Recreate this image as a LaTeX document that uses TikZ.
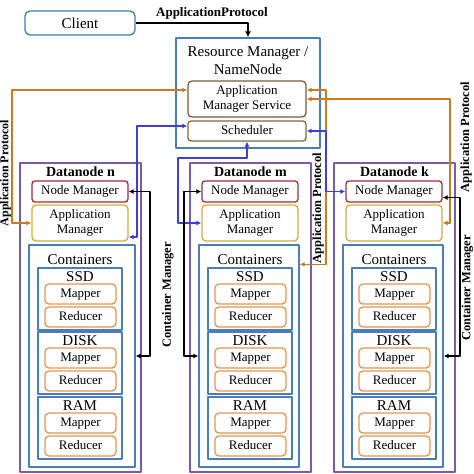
\documentclass[tikz,border=0pt]{standalone}
\usepackage{fontspec}
\setmainfont{Liberation Serif}
\usepackage{xcolor}
\usepackage{tikz}
\usetikzlibrary{arrows.meta}
\definecolor{hdTeal}{HTML}{3F7BA6}
\definecolor{hdBlue}{HTML}{4A7EBB}
\definecolor{hdPurple}{HTML}{7E5AA6}
\definecolor{hdRed}{HTML}{A3283A}
\definecolor{hdGold}{HTML}{CDAE3D}
\definecolor{hdBrown}{HTML}{7F5A36}
\definecolor{hdOlive}{HTML}{7D6A35}
\definecolor{hdOrange}{HTML}{E39550}
\definecolor{hdProto}{HTML}{C97C1E}
\definecolor{hdSched}{HTML}{3F3FD8}
\tikzset{
  hd diagram/.style={line join=round},
  hd big/.style={font=\fontsize{15}{18}\selectfont, align=center, inner sep=0pt},
  hd small/.style={font=\fontsize{13}{15}\selectfont, align=center, inner sep=0pt},
  hd label/.style={font=\bfseries\fontsize{12.5}{14}\selectfont, inner sep=0pt},
  hd box/.style={hd small, draw, line width=1.3pt, minimum width=96pt},
  hd frame/.style={draw, line width=1.3pt, inner sep=0pt},
  nm box/.style={hd box, draw=hdRed, rounded corners=3pt, minimum height=21pt},
  am box/.style={hd box, draw=hdGold, rounded corners=4pt, minimum height=36pt},
  mr box/.style={hd box, draw=hdOrange, rounded corners=4pt, minimum width=71pt,
    minimum height=20pt, text height=9pt, text depth=3pt},
  hd link/.style={{Latex[length=5pt,width=5pt]}-{Latex[length=5pt,width=5pt]},
    line width=1.3pt},
  proto link/.style={hd link, draw=hdProto},
  sched link/.style={hd link, draw=hdSched},
  cm link/.style={hd link, draw=black}
}
\begin{document}
\begin{tikzpicture}[hd diagram,x=1pt,y=-1pt]
\useasboundingbox (0,0) rectangle (474,474);
\node[hd big,hd frame,draw=hdTeal,rounded corners=5pt,minimum width=110pt,minimum height=24pt]
  (client) at (80,23) {Client};
\node[hd label,font=\bfseries\fontsize{13}{15}\selectfont] (aplabel) at (212,13) {ApplicationProtocol};
\node[hd frame,draw=hdBlue,minimum width=144pt,minimum height=110pt] (rm) at (248,93) {};
\node[hd big] (rmlabel) at (248,61) {Resource Manager /\\NameNode};
\node[hd box,draw=hdBrown,rounded corners=4pt,minimum width=118pt,minimum height=36pt]
  (ams) at (247,99) {Application\\Manager Service};
\node[hd box,draw=hdOlive,rounded corners=3pt,minimum width=118pt,minimum height=20pt,
  text height=9pt,text depth=3pt] (sch) at (247,131) {Scheduler};
\foreach \id/\xo/\cw in {n/20/106,m/190/100,k/334/100}{
  \node[hd frame,draw=hdPurple,minimum width=121pt,minimum height=309pt] (dn\id) at (\xo+60.5,317.5) {};
  \node[hd label,font=\bfseries\fontsize{14}{16}\selectfont] (dnlabel\id) at (\xo+60.5,172) {Datanode \id};
  \node[nm box] (nm\id) at (\xo+60,191.5) {Node Manager};
  \node[am box] (am\id) at (\xo+60,223) {Application\\Manager};
  \node[hd frame,draw=hdBlue,minimum width=\cw pt,minimum height=222pt] (ct\id) at (\xo+9+\cw/2,356) {};
  \node[hd big] (ctlabel\id) at (\xo+60,260) {Containers};
  \foreach \s/\yo in {SSD/268,DISK/332,RAM/397}{
    \node[hd frame,draw=hdBlue,minimum width=84pt,minimum height=62pt] (\s\id) at (\xo+60,\yo+31) {};
    \node[hd big] (\s label\id) at (\xo+60,\yo+9) {\s};
    \node[mr box] (map\s\id) at (\xo+60.5,\yo+26) {Mapper};
    \node[mr box] (red\s\id) at (\xo+60.5,\yo+49) {Reducer};
  }
}
\coordinate (busw) at (12,0);
\coordinate (busn) at (137,0);
\coordinate (busm) at (178,158);
\coordinate (busa) at (326,0);
\coordinate (buse) at (450,0);
\coordinate (cmn) at (150,0);
\coordinate (cmm) at (184,0);
\coordinate (cmk) at (460,0);
\draw[line width=2.2pt,-{Latex[length=6pt,width=6pt]}] (client.east) -| (rm.north);
\draw[proto link] ([yshift=9pt]ams.west) -- ([yshift=9pt]ams.west -| busw) |- (amn.west);
\draw[proto link] ([yshift=9pt]ams.east) -- ([yshift=9pt]ams.east -| busa) |- ([yshift=-20pt]ctm.north east);
\draw[proto link] (ams.east) -- (ams.east -| buse) |- (amk.east);
\draw[sched link] ([yshift=5pt]sch.west) -- ([yshift=5pt]sch.west -| busn) |- ([yshift=-14pt]amn.east);
\draw[sched link] (sch.south) |- (busm) |- (amm.west);
\draw[sched link] (sch.east) -- (sch.east -| busa) |- (nmk.west);
\draw[cm link] (nmn.east) -- (nmn.east -| cmn) |- (ctn.east);
\draw[cm link] (nmm.west) -- (nmm.west -| cmm) |- (ctm.west);
\draw[cm link] ([yshift=-6pt]nmk.east) -- ([yshift=-6pt]nmk.east -| cmk) |- (ctk.east);
\node[hd label,rotate=90,font=\bfseries\fontsize{12}{14}\selectfont] (protow) at (5.5,173) {Application Protocol};
\node[hd label,rotate=90] (protom) at (318,208) {Application Protocol};
\node[hd label,rotate=90] (protoe) at (466,137) {Application Protocol};
\node[hd label,rotate=90] (cmlabeln) at (168,295) {Container Manager};
\node[hd label,rotate=90] (cmlabelk) at (467.5,288) {Container Manager};
\end{tikzpicture}
\end{document}
